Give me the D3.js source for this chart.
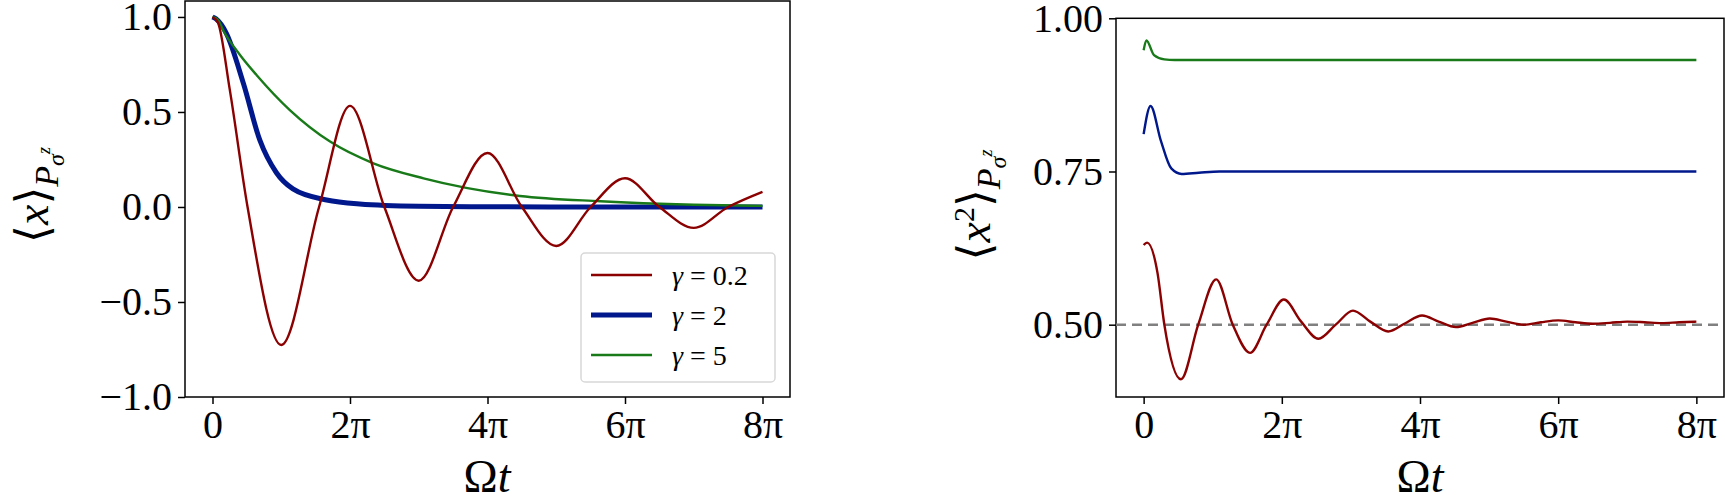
<!DOCTYPE html>
<html lang="en">
<head>
<meta charset="UTF-8">
<title>chart</title>
<script src="https://cdn.jsdelivr.net/npm/d3@7"></script>
<style>
  body { margin: 0; background: #fff; }
  text { font-family: "Liberation Serif", "DejaVu Serif", serif; }
</style>
</head>
<body>
<svg width="1725" height="503"></svg>
<script>
// time in units of pi
const tRedL   = [0, 0.08, 0.25, 0.51, 1, 1.55, 2, 2.5, 3, 3.5, 4, 4.5, 5, 5.5, 6, 6.5, 7, 7.5, 8];
const redL    = [1, 0.97, 0.62, 0, -0.726, 0, 0.532, 0, -0.388, 0, 0.284, 0, -0.205, 0, 0.151, 0, -0.11, 0, 0.08];
const tBlueL  = [0, 0.05, 0.2, 0.45, 0.69, 0.93, 1.17, 1.66, 2.14, 3, 4, 6, 8];
const blueL   = [1, 0.99, 0.915, 0.65, 0.35, 0.18, 0.095, 0.037, 0.016, 0.004, 0.001, 0, 0];
const tGreenL = [0, 0.08, 0.155, 0.4, 0.64, 1.125, 1.71, 2.34, 3.07, 4.47, 5.64, 7, 8];
const greenL  = [1, 0.985, 0.93, 0.80, 0.695, 0.51, 0.344, 0.23, 0.151, 0.058, 0.03, 0.012, 0.006];

const tRedR   = [0, 0.05, 0.2, 0.3, 0.54, 0.79, 1.05, 1.29, 1.54, 1.78, 2.03, 2.28, 2.53, 2.78, 3.03, 3.28, 3.54, 3.78, 4.03, 4.27, 4.52, 4.76, 5.01, 5.25, 5.5, 5.75, 6, 6.25, 6.5, 6.75, 7, 7.25, 7.5, 7.75, 8];
const redR    = [0.630, 0.634, 0.585, 0.50, 0.411, 0.50, 0.574, 0.50, 0.454, 0.50, 0.541, 0.505, 0.477, 0.50, 0.523, 0.505, 0.489, 0.502, 0.515, 0.505, 0.496, 0.503, 0.510, 0.505, 0.500, 0.504, 0.507, 0.504, 0.5016, 0.503, 0.505, 0.504, 0.5026, 0.504, 0.505];
const tBlueR  = [0, 0.1, 0.25, 0.4, 0.55, 0.8, 1.1, 2, 8];
const blueR   = [0.811, 0.857, 0.80, 0.755, 0.746, 0.748, 0.750, 0.750, 0.750];
const tGreenR = [0, 0.04, 0.15, 0.3, 0.45, 1, 8];
const greenR  = [0.948, 0.964, 0.940, 0.933, 0.932, 0.932, 0.932];

const gammas = ['0.2', '2', '5'];
const colors = ['#8b0000', '#00188c', '#187a18'];
const xTicks = [0, 2, 4, 6, 8];
const xTickLabels = ['0', '2π', '4π', '6π', '8π'];
const yTicksL = [-1, -0.5, 0, 0.5, 1];
const yTicksR = [0.5, 0.75, 1];

const svg = d3.select('svg');
const zip = (ts, vs) => ts.map((t, i) => [t, vs[i]]);

function panel(left, right, top, bottom, xDom, yDom, yTicks, fmt) {
  const x = d3.scaleLinear().domain(xDom).range([left, right]);
  const y = d3.scaleLinear().domain(yDom).range([bottom, top]);
  const g = svg.append('g');
  g.append('g').attr('transform', `translate(0,${bottom})`)
    .call(d3.axisBottom(x).tickValues(xTicks).tickFormat((d, i) => xTickLabels[i]).tickSize(7).tickPadding(6))
    .call(a => a.select('.domain').remove());
  g.append('g').attr('transform', `translate(${left},0)`)
    .call(d3.axisLeft(y).tickValues(yTicks).tickFormat(fmt).tickSize(7).tickPadding(6))
    .call(a => a.select('.domain').remove());
  g.selectAll('.tick text').attr('font-size', 40).attr('fill', '#000')
    .style('font-family', '"Liberation Serif", serif');
  g.selectAll('.tick line').attr('stroke', '#000').attr('stroke-width', 1.5);
  g.append('rect').attr('x', left).attr('y', top).attr('width', right - left).attr('height', bottom - top)
    .attr('fill', 'none').attr('stroke', '#000').attr('stroke-width', 1.5);
  const line = d3.line().x(d => x(d[0])).y(d => y(d[1])).curve(d3.curveMonotoneX);
  const clipId = 'c' + Math.round(left);
  g.append('clipPath').attr('id', clipId).append('rect')
    .attr('x', left).attr('y', top).attr('width', right - left).attr('height', bottom - top);
  const plot = g.append('g').attr('clip-path', `url(#${clipId})`);
  return { x, y, line, g, plot };
}

const minus = d => (d < 0 ? '−' : '') + Math.abs(d).toFixed(1);

// left panel
const L = panel(185, 790, 1, 397, [-0.4, 8.4], [-1, 1.084], yTicksL, minus);
const seriesL = [zip(tRedL, redL), zip(tBlueL, blueL), zip(tGreenL, greenL)];
const widthsL = [2.4, 5, 2.4];
[1, 2, 0].forEach(i => {
  L.plot.append('path').attr('d', L.line(seriesL[i])).attr('fill', 'none')
    .attr('stroke', colors[i]).attr('stroke-width', widthsL[i]);
});
// legend
const lg = L.g.append('g');
lg.append('rect').attr('x', 581).attr('y', 253).attr('width', 194).attr('height', 129).attr('rx', 4)
  .attr('fill', '#fff').attr('fill-opacity', 0.85).attr('stroke', '#d8d8d8').attr('stroke-width', 1.5);
gammas.forEach((gm, i) => {
  const yy = 275 + i * 40;
  lg.append('line').attr('x1', 591).attr('x2', 652).attr('y1', yy).attr('y2', yy)
    .attr('stroke', colors[i]).attr('stroke-width', widthsL[i]);
  const t = lg.append('text').attr('x', 672).attr('y', yy + 10).attr('font-size', 28);
  t.append('tspan').attr('font-style', 'italic').text('γ');
  t.append('tspan').text(' = ' + gm);
});
L.g.append('text').attr('x', 487).attr('y', 492).attr('text-anchor', 'middle').attr('font-size', 46)
  .html('Ω<tspan font-style="italic">t</tspan>');
L.g.append('text').attr('transform', 'translate(48,195) rotate(-90)').attr('text-anchor', 'middle').attr('font-size', 46)
  .html('⟨<tspan font-style="italic">x</tspan>⟩<tspan font-style="italic" font-size="34" dy="10">P</tspan><tspan font-style="italic" font-size="24" dy="6">σ</tspan><tspan font-style="italic" font-size="18" dy="-14">z</tspan>');

// right panel
const R = panel(1116, 1724, 18.3, 397, [-0.4, 8.4], [0.382, 1.0], yTicksR, d => d.toFixed(2));
R.plot.append('line').attr('x1', 1116).attr('x2', 1724).attr('y1', R.y(0.5)).attr('y2', R.y(0.5))
  .attr('stroke', '#808080').attr('stroke-width', 2.4).attr('stroke-dasharray', '10,6');
const seriesR = [zip(tRedR, redR), zip(tBlueR, blueR), zip(tGreenR, greenR)];
[0, 1, 2].forEach(i => {
  R.plot.append('path').attr('d', R.line(seriesR[i])).attr('fill', 'none')
    .attr('stroke', colors[i]).attr('stroke-width', 2.4);
});
R.g.append('text').attr('x', 1420).attr('y', 492).attr('text-anchor', 'middle').attr('font-size', 46)
  .html('Ω<tspan font-style="italic">t</tspan>');
R.g.append('text').attr('transform', 'translate(990,205) rotate(-90)').attr('text-anchor', 'middle').attr('font-size', 46)
  .html('⟨<tspan font-style="italic">x</tspan><tspan font-size="30" dy="-16">2</tspan><tspan dy="16">⟩</tspan><tspan font-style="italic" font-size="34" dy="10">P</tspan><tspan font-style="italic" font-size="24" dy="6">σ</tspan><tspan font-style="italic" font-size="18" dy="-14">z</tspan>');
</script>
</body>
</html>
